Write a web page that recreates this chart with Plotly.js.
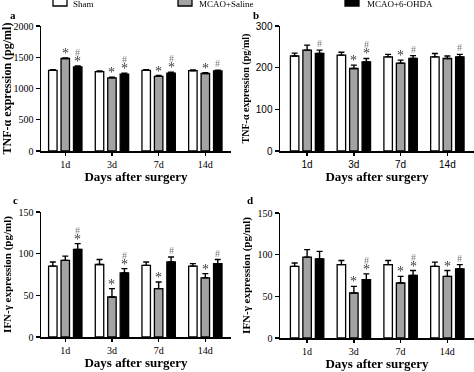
<!DOCTYPE html>
<html>
<head>
<meta charset="utf-8">
<script src="https://cdn.plot.ly/plotly-3.0.1.min.js"></script>
<style>
html,body{margin:0;padding:0;background:#fff;}
#chart{width:474px;height:372px;}
#chart .annotation-text{opacity:0.999;}
#chart .infolayer{will-change:transform;}
</style>
</head>
<body>
<div id="chart"></div>
<script>
// ---- data ----
const days = ["1d", "3d", "7d", "14d"];
const groups = ["Sham", "MCAO+Saline", "MCAO+6-OHDA"];

// panel a: TNF-α (pg/ml)
const aSham = [1290, 1270, 1290, 1285];
const aShamErr = [12, 12, 10, 12];
const aSaline = [1480, 1170, 1195, 1240];
const aSalineErr = [10, 10, 12, 12];
const aOhda = [1345, 1230, 1245, 1280];
const aOhdaErr = [15, 15, 15, 12];
const aSalineSig = ["*", "*", "*", "*"];
const aOhdaSig = ["*#", "*#", "*#", "#"];

// panel b: TNF-α (pg/ml)
const bSham = [228, 230, 226, 226];
const bShamErr = [7, 7, 6, 8];
const bSaline = [242, 198, 211, 222];
const bSalineErr = [12, 8, 7, 6];
const bOhda = [234, 214, 222, 226];
const bOhdaErr = [8, 8, 7, 6];
const bSalineSig = ["", "*", "*", ""];
const bOhdaSig = ["#", "*#", "#", "#"];

// panel c: IFN-γ (pg/ml)
const cSham = [85, 87, 86, 85];
const cShamErr = [5, 6, 4, 3];
const cSaline = [92, 48, 58, 71];
const cSalineErr = [5, 10, 8, 5];
const cOhda = [105, 77, 90, 88];
const cOhdaErr = [7, 5, 6, 5];
const cSalineSig = ["", "*", "*", "*"];
const cOhdaSig = ["*#", "*#", "#", "#"];

// panel d: IFN-γ (pg/ml)
const dSham = [86, 88, 88, 86];
const dShamErr = [4, 5, 5, 5];
const dSaline = [97, 54, 66, 74];
const dSalineErr = [9, 8, 8, 7];
const dOhda = [95, 70, 75, 83];
const dOhdaErr = [9, 7, 6, 5];
const dSalineSig = ["", "*", "*", "*"];
const dOhdaSig = ["", "*#", "*#", "#"];

// ---- styling ----
const SERIF = "Liberation Serif, Times New Roman, serif";
const SANS = "Liberation Sans, Arial, sans-serif";
const colors = ["#ffffff", "#a3a3a3", "#000000"];
const zeros = [0, 0, 0, 0];

const traces = [];
const annotations = [];

const STAR = "<span style='font-size:14px;color:#3c3c3c'>*</span>";
const HASH = "<span style='font-size:10px;color:#808080'>#</span>";

function addPanel(n, vals, errs, sigSaline, sigOhda) {
  const xa = n === 1 ? "x" : "x" + n;
  const ya = n === 1 ? "y" : "y" + n;
  for (let g = 0; g < 3; g++) {
    traces.push({
      type: "bar", x: days, y: vals[g], name: groups[g],
      xaxis: xa, yaxis: ya, showlegend: false,
      marker: { color: colors[g], line: { color: "#000", width: 1.3 } },
      error_y: { type: "data", symmetric: false, array: errs[g], arrayminus: zeros,
                 color: "#000", thickness: 1.4, width: 3 },
      hoverinfo: "skip"
    });
  }
  const sets = [[sigSaline, 1, 0], [sigOhda, 2, 12.5]];
  sets.forEach(([sig, g, xs]) => {
    sig.forEach((s, i) => {
      if (!s) return;
      const top = vals[g][i] + errs[g][i];
      const hasStar = s.indexOf("*") >= 0, hasHash = s.indexOf("#") >= 0;
      let text;
      if (hasStar && hasHash) text = HASH + "<br>" + STAR;
      else if (hasStar) text = STAR;
      else text = HASH;
      annotations.push({ xref: xa, yref: ya, x: days[i], y: top, xshift: xs,
        yshift: hasStar ? -4 : 0, borderpad: 0,
        yanchor: "bottom", showarrow: false, text: text,
        font: { family: SERIF, size: 8, color: "#444" } });
    });
  });
}

addPanel(1, [aSham, aSaline, aOhda], [aShamErr, aSalineErr, aOhdaErr], aSalineSig, aOhdaSig);
addPanel(2, [bSham, bSaline, bOhda], [bShamErr, bSalineErr, bOhdaErr], bSalineSig, bOhdaSig);
addPanel(3, [cSham, cSaline, cOhda], [cShamErr, cSalineErr, cOhdaErr], cSalineSig, cOhdaSig);
addPanel(4, [dSham, dSaline, dOhda], [dShamErr, dSalineErr, dOhdaErr], dSalineSig, dOhdaSig);

function px(x) { return x / 474; }
function py(y) { return 1 - y / 372; }

function xAxis(dom, range, anchor, fam) {
  return {
    domain: dom, anchor: anchor, type: "category", range: range,
    showline: true, linecolor: "#000", linewidth: 1.5, mirror: false,
    ticks: "outside", ticklen: 3, tickwidth: 1.3, tickcolor: "#000",
    showgrid: false, zeroline: false,
    tickfont: { family: fam, size: 10, color: "#000" },
    title: { text: "Days after surgery", standoff: 3,
             font: { family: SERIF, size: 13, color: "#000", weight: "bold" } }
  };
}
function yAxis(dom, range, dtick, anchor, fam, title, tsize) {
  return {
    domain: dom, anchor: anchor, range: range, dtick: dtick,
    showline: true, linecolor: "#000", linewidth: 1.5,
    ticks: "outside", ticklen: 4, tickwidth: 1.3, tickcolor: "#000",
    showgrid: false, zeroline: false,
    tickfont: { family: fam, size: 10, color: "#000" },
    title: { text: title, standoff: 4,
             font: { family: SERIF, size: tsize, color: "#000", weight: "bold" } }
  };
}

const domA = [px(41), px(231)];
const domB = [px(280), px(474)];
const rngA = [-0.52, 3.55];
const rngB = [-0.58, 3.57];

const layout = {
  width: 474, height: 372,
  margin: { l: 0, r: 0, t: 0, b: 0 },
  paper_bgcolor: "#fff", plot_bgcolor: "#fff",
  barmode: "group", bargap: 0.2, bargroupgap: 0.32,
  showlegend: false,
  xaxis: xAxis(domA, rngA, "y", SERIF),
  yaxis: yAxis([py(151), py(26)], [0, 2000], 500, "x", SERIF, "TNF-α expression (pg/ml)", 12),
  xaxis2: xAxis(domB, rngB, "y2", SANS),
  yaxis2: yAxis([py(151), py(26)], [0, 300], 100, "x2", SANS, "TNF-α expression (pg/ml)", 10),
  xaxis3: xAxis(domA, rngA, "y3", SERIF),
  yaxis3: yAxis([py(337), py(212)], [0, 150], 50, "x3", SERIF, "IFN-γ expression (pg/ml)", 11),
  xaxis4: xAxis(domB, rngB, "y4", SERIF),
  yaxis4: yAxis([py(338), py(213)], [0, 150], 50, "x4", SERIF, "IFN-γ expression (pg/ml)", 11),
  shapes: [],
  annotations: annotations
};

// legend drawn as boxes and labels
const legX = [53, 178, 345];
const legTextX = [71, 197, 365];
for (let g = 0; g < 3; g++) {
  layout.shapes.push({ type: "rect", xref: "paper", yref: "paper",
    x0: px(legX[g]), x1: px(legX[g] + 14), y0: py(6), y1: py(-2),
    fillcolor: colors[g], line: { color: "#000", width: 1.3 } });
  annotations.push({ xref: "paper", yref: "paper", x: px(legTextX[g]), y: py(4.5),
    xanchor: "left", yanchor: "middle", showarrow: false, text: groups[g],
    font: { family: SERIF, size: 9, color: "#000" } });
}

// panel letters
[["a", 13, 15], ["b", 256, 15], ["c", 16, 200], ["d", 250, 200]].forEach(([t, x, y]) => {
  annotations.push({ xref: "paper", yref: "paper", x: px(x), y: py(y),
    xanchor: "center", yanchor: "middle", showarrow: false, text: t,
    font: { family: SERIF, size: 11, color: "#000", weight: "bold" } });
});

Plotly.newPlot("chart", traces, layout, { staticPlot: true, displayModeBar: false });
</script>
</body>
</html>
